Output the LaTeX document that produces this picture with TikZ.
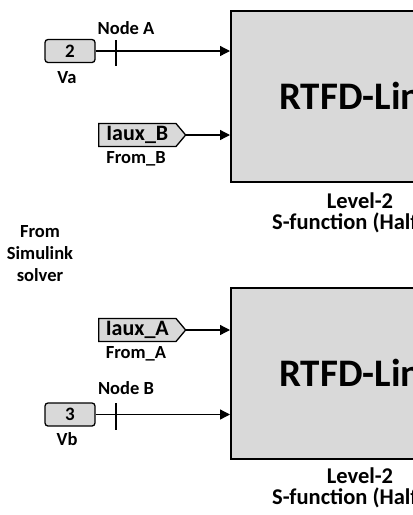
\documentclass[tikz,border=0pt]{standalone}
\usepackage{fontspec}
\setmainfont{Carlito}
\usetikzlibrary{arrows.meta,shapes.symbols,positioning}
\definecolor{simgray}{HTML}{D9D9D9}

\begin{document}
\begin{tikzpicture}[x=1pt, y=-1pt,
    inport/.style={draw, line width=1.3pt, rounded corners=3pt, fill=simgray, minimum width=50pt, minimum height=23pt, inner sep=0pt, font=\fontsize{19}{19}\selectfont\bfseries},
    fromtag/.style={draw, line width=1.3pt, fill=simgray, signal, signal to=east, signal pointer angle=100, minimum width=87pt, minimum height=23pt, inner sep=1pt, anchor=west, font=\fontsize{22}{22}\selectfont\bfseries},
    sfunc/.style={draw, line width=1.5pt, fill=simgray, minimum width=258pt, minimum height=171pt, anchor=north west, font=\fontsize{39}{39}\selectfont\bfseries},
    lbl/.style={inner sep=0pt, align=center, font=\fontsize{18.5}{22}\selectfont\bfseries},
    blbl/.style={inner sep=0pt, font=\fontsize{22.5}{22.5}\selectfont\bfseries},
    sig/.style={line width=1.3pt, -{Triangle[length=10pt,width=10pt]}},
    tick/.style={line width=2pt}]
    \useasboundingbox (0,0) rectangle (413,515);
    \clip (0,0) rectangle (413,515);
    % top half
    \node[sfunc] (rtfdA) at (230,10) {RTFD-Link};
    \node[inport] (va) at (70,51) {2};
    \node[lbl] (vaname) at (67,78) {Va};
    \node[lbl] (nodeA) at (126,28) {Node A};
    \node[fromtag] (iauxB) at (98,135) {Iaux\_B};
    \node[lbl] (fromB) at (136,159) {From\_B};
    \node[blbl] (levelA) at (360,201) {Level-2};
    \node[blbl, anchor=west] (sfunA) at (272,223) {S-function (Half-bridge)};
    \draw[sig] (va.east) -- (va.east -| rtfdA.west);
    \draw[sig] (iauxB.east) -- (iauxB.east -| rtfdA.west);
    \draw[tick] (116,40) -- (116,66);
    % solver note
    \node[lbl] (solver) at (40,254) {From\\Simulink\\solver};
    % bottom half
    \node[sfunc] (rtfdB) at (230,287) {RTFD-Link};
    \node[fromtag] (iauxA) at (98,330) {Iaux\_A};
    \node[lbl] (fromA) at (136,354) {From\_A};
    \node[lbl] (nodeB) at (126,388) {Node B};
    \node[inport] (vb) at (70,414.5) {3};
    \node[lbl] (vbname) at (67,439) {Vb};
    \node[blbl] (levelB) at (360,476) {Level-2};
    \node[blbl, anchor=west] (sfunB) at (272,498) {S-function (Half-bridge)};
    \draw[sig] (iauxA.east) -- (iauxA.east -| rtfdB.west);
    \draw[sig] (vb.east) -- (vb.east -| rtfdB.west);
    \draw[tick] (116,403) -- (116,430);
\end{tikzpicture}
\end{document}
